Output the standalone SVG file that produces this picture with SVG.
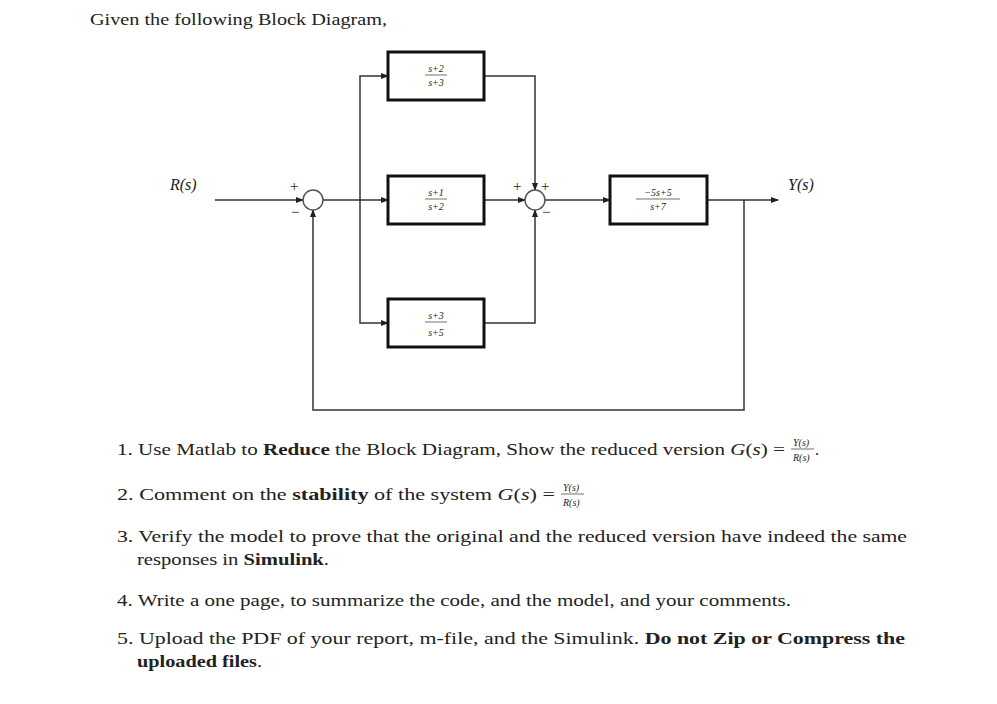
<svg xmlns="http://www.w3.org/2000/svg" width="997" height="704" viewBox="0 0 997 704">
<defs><marker id="a" markerWidth="8" markerHeight="6" refX="7" refY="3" orient="auto" markerUnits="userSpaceOnUse"><path d="M0,0L8,3L0,6Z" fill="#222"/></marker></defs>
<style>
text{font-family:"Liberation Serif",serif;fill:#222}
.t{font-size:16px}
.f{font-size:10px;text-anchor:middle}
.s{font-size:15px}
.blk{fill:#fff;stroke:#111;stroke-width:3}
.ln{fill:none;stroke:#333;stroke-width:1.5}
.sum{fill:#fff;stroke:#555;stroke-width:1.5}
</style>
<rect width="997" height="704" fill="#fff"/>
<text class="t" x="90" y="25" textLength="297" lengthAdjust="spacingAndGlyphs">Given the following Block Diagram,</text>
<g id="connectors">
<path class="ln" d="M215,200H303" marker-end="url(#a)"/>
<path class="ln" d="M323,200H388" marker-end="url(#a)"/>
<path class="ln" d="M360,200V76H388" marker-end="url(#a)"/>
<path class="ln" d="M360,200V323H388" marker-end="url(#a)"/>
<path class="ln" d="M484,76H535V190" marker-end="url(#a)"/>
<path class="ln" d="M484,200H525" marker-end="url(#a)"/>
<path class="ln" d="M484,323H535V210" marker-end="url(#a)"/>
<path class="ln" d="M545,200H610" marker-end="url(#a)"/>
<path class="ln" d="M707,200H778" marker-end="url(#a)"/>
<path class="ln" d="M744,200V410H313V210" marker-end="url(#a)"/>
</g>
<g id="sum1"><circle class="sum" cx="313" cy="200" r="10"/><text class="s" x="290" y="191">+</text><text class="s" x="291" y="217">−</text></g>
<g id="sum2"><circle class="sum" cx="535" cy="200" r="10"/><text class="s" x="513" y="191">+</text><text class="s" x="541" y="191">+</text><text class="s" x="542" y="217">−</text></g>
<g id="g1"><rect class="blk" x="388" y="52" width="96" height="48"/><text class="f" x="436" y="72" font-style="italic">s+2</text><line x1="425" y1="75" x2="447" y2="75" stroke="#333" stroke-width="0.7"/><text class="f" x="436" y="86" font-style="italic">s+3</text></g>
<g id="g2"><rect class="blk" x="388" y="176" width="96" height="48"/><text class="f" x="436" y="196" font-style="italic">s+1</text><line x1="425" y1="199" x2="447" y2="199" stroke="#333" stroke-width="0.7"/><text class="f" x="436" y="210" font-style="italic">s+2</text></g>
<g id="g3"><rect class="blk" x="388" y="299" width="96" height="48"/><text class="f" x="436" y="319" font-style="italic">s+3</text><line x1="425" y1="322" x2="447" y2="322" stroke="#333" stroke-width="0.7"/><text class="f" x="436" y="336" font-style="italic">s+5</text></g>
<g id="g4"><rect class="blk" x="610" y="176" width="97" height="48"/><text class="f" x="658" y="196" font-style="italic">−5s+5</text><line x1="636" y1="199" x2="680" y2="199" stroke="#333" stroke-width="0.7"/><text class="f" x="658" y="210" font-style="italic">s+7</text></g>
<text class="t" x="170" y="190" font-style="italic">R(s)</text>
<text class="t" x="788" y="190" font-style="italic">Y(s)</text>
<text class="t" x="117" y="455" textLength="668" lengthAdjust="spacingAndGlyphs">1. Use Matlab to <tspan font-weight="bold">Reduce</tspan> the Block Diagram, Show the reduced version <tspan font-style="italic">G</tspan>(<tspan font-style="italic">s</tspan>) =</text>
<text font-size="10" x="793" y="446" font-style="italic">Y(s)</text><line x1="791" y1="449" x2="814" y2="449" stroke="#333" stroke-width="0.7"/><text font-size="10" x="793" y="461" font-style="italic">R(s)</text><text class="t" x="815" y="455">.</text>
<text class="t" x="117" y="500" textLength="438" lengthAdjust="spacingAndGlyphs">2. Comment on the <tspan font-weight="bold">stability</tspan> of the system <tspan font-style="italic">G</tspan>(<tspan font-style="italic">s</tspan>) =</text>
<text font-size="10" x="563" y="491" font-style="italic">Y(s)</text><line x1="561" y1="494" x2="584" y2="494" stroke="#333" stroke-width="0.7"/><text font-size="10" x="563" y="506" font-style="italic">R(s)</text>
<text class="t" x="117" y="542" textLength="790" lengthAdjust="spacingAndGlyphs">3. Verify the model to prove that the original and the reduced version have indeed the same</text>
<text class="t" x="137" y="565" textLength="192" lengthAdjust="spacingAndGlyphs">responses in <tspan font-weight="bold">Simulink</tspan>.</text>
<text class="t" x="117" y="606" textLength="674" lengthAdjust="spacingAndGlyphs">4. Write a one page, to summarize the code, and the model, and your comments.</text>
<text class="t" x="117" y="644" textLength="788" lengthAdjust="spacingAndGlyphs">5. Upload the PDF of your report, m-file, and the Simulink. <tspan font-weight="bold">Do not Zip or Compress the</tspan></text>
<text class="t" x="137" y="667" textLength="125" lengthAdjust="spacingAndGlyphs"><tspan font-weight="bold">uploaded files</tspan>.</text>
</svg>
